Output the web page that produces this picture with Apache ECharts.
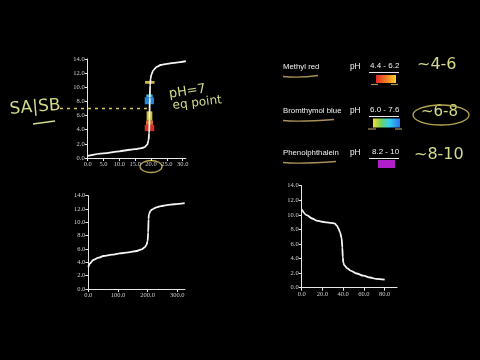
<!DOCTYPE html>
<html><head><meta charset="utf-8">
<script src="https://cdn.jsdelivr.net/npm/echarts@6/dist/echarts.min.js"></script>
<style>html,body{margin:0;padding:0;background:#000}#c{width:480px;height:360px}</style>
</head><body><div id="c"></div>
<script>
// Strong acid / strong base titration (top left)
const saVolume = [0,5,10,13.4,15,17,18,18.8,19.2,19.4,19.5,19.6,19.7,19.85,20.1,20.7,21.8,23,25,28,31];
const saPH     = [0.3,0.65,0.95,1.17,1.25,1.4,1.55,1.9,2.5,3.5,5.5,8.5,10.3,11.2,11.8,12.4,12.9,13.15,13.3,13.5,13.7];
// Weak acid / strong base titration (bottom left)
const waVolume = [0,5,17,35,51,80,106,135,163,180,190,196,200,202,203,204.5,209,216,230,245,265,290,325];
const waPH     = [3.3,3.8,4.35,4.7,4.95,5.15,5.35,5.5,5.7,5.95,6.25,6.6,7.2,8.5,10.5,11.2,11.7,11.95,12.25,12.45,12.6,12.72,12.88];
// Weak base / strong acid titration (bottom right)
const wbVolume = [0,4.8,10,14.5,20,24,28,32,34,35.5,37,38.5,39.2,39.6,40.2,41,44,47,53,59.4,66,72,80];
const wbPH     = [10.75,9.97,9.5,9.2,9.05,8.97,8.9,8.8,8.5,8.1,7.6,6.8,5.5,4.2,3.4,3.1,2.65,2.35,1.95,1.65,1.4,1.2,1.1];
// tick labels
const yTicks = [0,2,4,6,8,10,12,14];
const xTicks1 = [0,5,10,15,20,25,30];
const xTicks2 = [0,100,200,300];
const xTicks3 = [0,20,40,60,80];
// indicators
const indicators = ['Methyl red','Bromthymol blue','Phenolphthalein'];
const ranges = ['4.4 - 6.2','6.0 - 7.6','8.2 - 10'];
const approx = ['~4-6','~6-8','~8-10'];

const AX = '#e6e6e6', LBL = '#cfcfcf', HAND = '#d4da88', TAN = '#a8905a';
function xAxisCfg(idx, max, ticks){
  return {type:'value', gridIndex:idx, min:0, max:max, interval:ticks[1]-ticks[0],
    axisLine:{lineStyle:{color:AX,width:1}},
    axisTick:{length:3, lineStyle:{color:AX}, customValues:ticks},
    axisLabel:{color:LBL, fontSize:6.5, fontFamily:'Liberation Serif', margin:3, customValues:ticks,
      formatter:v=>v.toFixed(1)},
    splitLine:{show:false}};
}
function yAxisCfg(idx){
  return {type:'value', gridIndex:idx, min:0, max:14, interval:2,
    axisLine:{show:true, lineStyle:{color:AX,width:1}},
    axisTick:{show:true, length:3, lineStyle:{color:AX}},
    axisLabel:{color:LBL, fontSize:6.5, fontFamily:'Liberation Serif', margin:3, formatter:v=>v.toFixed(1)},
    splitLine:{show:false}};
}
function zip(a,b){return a.map((v,i)=>[v,b[i]]);}
const lineStyle = {color:'#f4f4f4', width:1.8};

const chart = echarts.init(document.getElementById('c'), null, {renderer:'canvas'});
const option = {
  backgroundColor:'#000',
  animation:false,
  grid:[
    {left:87.7, top:59, width:98.2, height:99, outerBoundsMode:'none'},
    {left:88.3, top:195.7, width:96.7, height:93.3, outerBoundsMode:'none'},
    {left:301.7, top:185.7, width:95.4, height:102, outerBoundsMode:'none'}
  ],
  xAxis:[xAxisCfg(0,31,xTicks1), xAxisCfg(1,326,xTicks2), xAxisCfg(2,92,xTicks3)],
  yAxis:[yAxisCfg(0), yAxisCfg(1), yAxisCfg(2)],
  series:[
    {type:'line', xAxisIndex:0, yAxisIndex:0, data:zip(saVolume,saPH), showSymbol:false,
      smooth:0.3, smoothMonotone:'x', lineStyle:lineStyle, z:3,
      markArea:{silent:true, data:[
        [{xAxis:18.0, yAxis:3.8, itemStyle:{color:'#d8301f'}},{xAxis:21.0, yAxis:4.7}],
        [{xAxis:18.4, yAxis:4.7, itemStyle:{color:'#e0742a'}},{xAxis:20.6, yAxis:5.3}],
        [{xAxis:18.6, yAxis:5.3, itemStyle:{color:'#cfc23a'}},{xAxis:20.4, yAxis:6.6}],
        [{xAxis:18.0, yAxis:7.6, itemStyle:{color:'#2a86d8'}},{xAxis:20.9, yAxis:8.6}],
        [{xAxis:18.5, yAxis:8.6, itemStyle:{color:'#3cb0d0'}},{xAxis:20.5, yAxis:9.0}],
        [{xAxis:18.1, yAxis:10.5, itemStyle:{color:'#c8b845'}},{xAxis:21.1, yAxis:10.9}]
      ]}},
    {type:'line', xAxisIndex:1, yAxisIndex:1, data:zip(waVolume,waPH), showSymbol:false,
      smooth:0.3, smoothMonotone:'x', lineStyle:lineStyle},
    {type:'line', xAxisIndex:2, yAxisIndex:2, data:zip(wbVolume,wbPH), showSymbol:false,
      smooth:0.3, smoothMonotone:'x', lineStyle:lineStyle}
  ]
};
chart.setOption(option);

const p7a = chart.convertToPixel({gridIndex:0},[0,7]);
const p7b = chart.convertToPixel({gridIndex:0},[19.5,7]);
const p20 = chart.convertToPixel({gridIndex:0},[20,0]);

const txt = (s,x,y,size,fill,extra)=>Object.assign({type:'text', style:{text:s, x:x, y:y, fill:fill,
  font:'normal '+size+'px "Liberation Sans"', textVerticalAlign:'top'}}, extra||{});
const hand = (s,x,y,size,rot)=>({type:'text', x:x, y:y, rotation:rot||0, style:{text:s, x:0, y:0, fill:HAND,
  font:'normal '+size+'px "DejaVu Sans"', textVerticalAlign:'top'}});
const ln = (x1,y1,x2,y2,stroke,w,dash)=>({type:'line', shape:{x1,y1,x2,y2}, style:{stroke, lineWidth:w, lineDash:dash||null}});
const curve = (x1,y1,cx,cy,x2,y2,stroke,w)=>({type:'bezierCurve', shape:{x1,y1,x2,y2,cpx1:cx,cpy1:cy}, style:{stroke,lineWidth:w,fill:null}});

const legendY = [63,107,149];
const g = [];
// left annotations
g.push(hand('SA|SB',9,101,17,0.08));
g.push(ln(33,124,55,121,HAND,1.3));
g.push(ln(60,p7a[1],p7b[0],p7b[1],'#d4c866',1.5,[3,4]));
g.push(hand('pH=7',168,88,13,0.15));
g.push(hand('eq point',172,100,12,0.12));
g.push({type:'ellipse', shape:{cx:p20[0], cy:p20[1]+8.5, rx:11, ry:6}, style:{stroke:'#b4a64e', lineWidth:1.3, fill:null}});
// right legend
indicators.forEach((name,i)=>{
  const y = legendY[i];
  g.push(txt(name,283,y,7.8,'#f2f2f2'));
  g.push(txt('pH',350,y,8.3,'#f2f2f2'));
  g.push(txt(ranges[i],i===2?372:370,y-1,8,'#f2f2f2'));
  g.push(ln(369,y+9.5,399,y+9.5,'#e8e8e8',1));
  g.push(curve(283,y+13.5,300,y+15,[318,334,336][i],y+12.5,TAN,1.3));
});
g.push({type:'rect', shape:{x:376,y:75,width:20,height:8}, style:{fill:new echarts.graphic.LinearGradient(0,0,1,0,[
  {offset:0,color:'#e02a20'},{offset:0.5,color:'#f27a22'},{offset:1,color:'#f8d030'}])}});
g.push(ln(371,84.5,378,84.5,TAN,1.2)); g.push(ln(391,84.5,398,84.5,TAN,1.2));
g.push({type:'rect', shape:{x:373,y:118.5,width:27,height:9}, style:{fill:new echarts.graphic.LinearGradient(0,0,1,0,[
  {offset:0,color:'#f6e030'},{offset:0.3,color:'#70d060'},{offset:0.6,color:'#30d0f0'},{offset:1,color:'#3070f0'}])}});
g.push(ln(368,129,376,129,TAN,1.2)); g.push(ln(395,129,402,129,TAN,1.2));
g.push({type:'rect', shape:{x:378,y:160,width:17,height:8}, style:{fill:'#b020c8'}});
g.push(hand(approx[0],417,57,16));
g.push(hand(approx[1],421,105,15));
g.push({type:'ellipse', shape:{cx:441, cy:115, rx:28, ry:10}, style:{stroke:'#b4a64e', lineWidth:1.3, fill:null}});
g.push(hand(approx[2],414,147,16));
chart.setOption({graphic:{elements:g}});
</script></body></html>
